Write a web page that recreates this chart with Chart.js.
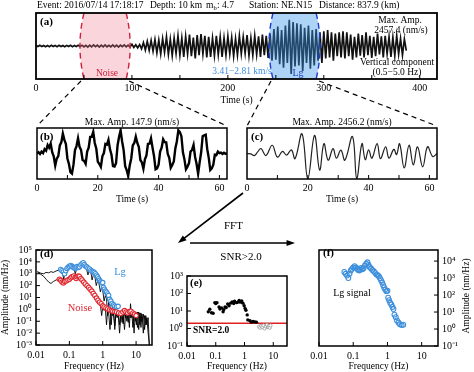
<!DOCTYPE html>
<html>
<head>
<meta charset="utf-8">
<script src="https://cdn.jsdelivr.net/npm/chart.js@4.4.1/dist/chart.umd.min.js"></script>
<style>
  html, body { margin: 0; padding: 0; background: #fff; }
  #fig { position: relative; width: 474px; height: 372px; overflow: hidden; background: #fff; }
  #fig canvas { position: absolute; }
</style>
</head>
<body>
<div id="fig">
  <canvas id="chartA" width="474" height="106" style="left:0;top:0"></canvas>
  <canvas id="chartB" width="237" height="95" style="left:0;top:110px"></canvas>
  <canvas id="chartC" width="237" height="95" style="left:237px;top:110px"></canvas>
  <canvas id="chartD" width="160" height="132" style="left:0;top:240px"></canvas>
  <canvas id="chartE" width="140" height="107" style="left:160px;top:265px"></canvas>
  <canvas id="chartF" width="174" height="132" style="left:300px;top:240px"></canvas>
  <canvas id="overlay" width="474" height="372" style="left:0;top:0;pointer-events:none"></canvas>
</div>
<script>
// ---- waveform (a): full record, one sample every 2 s (nm/s) ----
const waveAStep = 2;
const waveA = [
  40, -50, 60, -40, 50, -60, 45, -55, 60, -50, 40, -60, 55, -45, 50, -60, 40, -50, 60, -55, 45, -50, 60, -40,
  70, -80, 60, -90, 80, -70, 90, -60, 80, -90, 70, -80, 90, -70, 60, -80, 90, -80, 70, -90, 80, -60, 90, -70, 80, -90,
  150, -120, 110, -160, 130,
  -250, 300, -350, 420, -380, 500, -450, 560, -600, 520,
  -700, 650, -550, 800, -750, 600, -850, 700, -650, 900, -800, 700, -950, 850, -700,
  1000, -900, 750, -1100, 950, -800, 1050, -700, 900, -1000, 800, -950, 700, -850, 900, -750, 800, -950, 700, -800,
  850, -700, 750, -900, 650, -800, 900, -700, 800, -650, 950, -850, 700, -800, 900, -750, 850, -950, 1000, -800, 900, -1050, 1100,
  -1300, 1500, -1200, 1700, -1600, 1400, -1900, 1800, -1500, 2300, -2457, 2100,
  -1800, 2000, -1700, 1900, -2200, 1600, -1500, 1800, -2000, 1400, -1700, 1500, -1300,
  1200, -1500, 1300, -1100, 1400, -1000, 1200, -1300, 1100, -900, 1200, -1000, 1300,
  -1100, 1200, -900, 1000, -1200, 800, -1000, 1100, -850, 950, -1000, 1200, -800, 900, -1050, 800, -900,
  1100, -750, 850, -1000, 900, -700, 800, -950, 750, -850, 900, -700, 650, -800, 600, -400
];
const noiseWindow = [50, 94];
const lgWindow = [247, 292];

// ---- waveform (b): noise window, one sample every 0.5 s ----
const waveBStep = 0.5;
const waveB = [
  0, 8, -3, 12, 2, 28, 18, 55, 38, 64, 8, -18, -78, -33, -17, 52, 72, 129, 88, 62,
  -32, -68, -120, -130, -72, 22, 48, 98, 43, 22, -42, -48, -67, 12, 38, 107, 108, 140, 68, 32,
  -52, -68, -87, -18, 3, 62, 58, 88, 28, -8, -82, -85, -62, 52, 108, 150, 78, 22, -82, -108,
  -145, -78, -32, 52, 68, 109, 68, 42, -42, -58, -98, -38, -12, 62, 63, 98, 38, -18, -102, -96,
  -72, 12, 38, 92, 74, 72, -2, -28, -92, -74, -52, 32, 78, 150, 139, 112, 8, -38, -102, -85,
  -62, 12, 23, 55, -22, -68, -131, -58, 8, 112, 118, 122, 28, -28, -107, -96, -72, -8, -10, 12,
  2, 6, -3, 5, -2, 0
];

// ---- waveform (c): Lg window, turning points ----
const waveCTimes = [0, 1.2, 2.4, 3.5, 4.6, 6.2, 8.3, 10.0, 11.7, 13.0, 14.6, 15.8, 18.1, 20.0, 22.2, 23.9, 25.3, 26.7, 28.3, 29.4,
  30.9, 32.2, 34.7, 36.1, 37.8, 38.9, 40.0, 41.1, 42.8, 43.9, 45.6, 46.7, 48.3, 49.2, 50.2, 51.7, 53.3, 54.7, 56.1, 57.8,
  59.4, 61.1, 62.5];
const waveCAmps = [0, -40, -200, 150, 480, -200, 800, -350, 200, -150, 350, -500, 1900, -2456, 1750, -1600, 950, -650, 480, -450,
  320, -650, 1650, -2450, 950, -600, 350, -450, 950, -500, 650, -450, 400, -100, 950, -1400, 800, -1100, 650, -1300,
  650, -300, 0];

// ---- spectra (d) ----
const rawFreq = [0.011, 0.014, 0.017, 0.02, 0.024, 0.028, 0.033, 0.04, 0.047, 0.055,
  0.062, 0.068, 0.072, 0.08, 0.09, 0.1, 0.11, 0.12, 0.135, 0.15,
  0.17, 0.19, 0.21, 0.24, 0.26, 0.29, 0.32, 0.36, 0.4, 0.44,
  0.48, 0.53, 0.58, 0.64, 0.7, 0.77, 0.85, 0.93, 1.0, 1.1,
  1.2, 1.3, 1.4, 1.5, 1.65, 1.8, 1.95, 2.1, 2.3, 2.5,
  2.7, 2.9, 3.2, 3.5, 3.8, 4.1, 4.5, 4.9, 5.3, 5.8,
  6.3, 6.8, 7.4, 8.0, 8.7, 9.4, 10.2, 11, 12, 13,
  14, 15, 16.5, 18, 19.5, 21, 23, 25];
const rawLgAmp = [1500, 1100, 1000, 1300, 1200, 1500, 1300, 1700, 2000, 2200,
  1500, 300, 1200, 3000, 4000, 5000, 4000, 3000, 3500, 1000,
  3000, 4000, 6000, 9000, 7000, 3000, 3500, 800, 2000, 1500,
  300, 900, 600, 100, 250, 150, 30, 80, 40, 5,
  15, 8, 0.3, 4, 2, 0.05, 1.5, 0.8, 0.02, 0.6,
  0.3, 0.9, 0.05, 0.5, 0.08, 0.4, 0.02, 0.6, 0.1, 0.8,
  0.03, 3, 0.2, 0.5, 0.01, 0.4, 0.05, 0.6, 0.02, 0.5,
  0.03, 0.4, 0.01, 0.3, 0.05, 0.2, 0.01, 0.001];
const rawNoiseAmp = [1400, 900, 600, 350, 200, 150, 220, 300, 350, 280,
  150, 180, 120, 200, 280, 300, 350, 450, 500, 300,
  600, 500, 400, 350, 200, 120, 90, 60, 45, 30,
  25, 18, 12, 9, 3, 4, 2.5, 0.3, 1.5, 0.8,
  1.2, 0.05, 0.9, 0.6, 0.02, 0.7, 0.3, 0.5, 0.04, 0.5,
  0.2, 0.4, 0.01, 0.3, 0.4, 0.06, 0.5, 0.2, 0.6, 0.08,
  0.5, 0.2, 0.7, 0.03, 0.6, 0.1, 0.5, 0.03, 0.6, 0.05,
  0.5, 0.1, 0.4, 0.02, 0.3, 0.05, 0.2, 0.001];

const lgFreq = [0.055, 0.06, 0.066, 0.072, 0.078, 0.085, 0.092, 0.1, 0.11, 0.12,
  0.13, 0.14, 0.15, 0.16, 0.17, 0.185, 0.2, 0.22, 0.24, 0.26,
  0.28, 0.3, 0.33, 0.36, 0.4, 0.44, 0.48, 0.52, 0.56, 0.6,
  0.65, 0.7, 0.75, 0.8, 0.86, 0.93, 1.0, 1.05, 1.12, 1.2,
  1.3, 1.4, 1.5, 1.6, 1.75, 1.9, 2.1, 2.3, 2.6, 2.9];
const lgAmp = [2300, 1800, 1400, 1000, 1800, 2800, 3500, 4200, 5000, 4200,
  3500, 3000, 2800, 3200, 4000, 3300, 3800, 5500, 7000, 8500,
  6000, 4500, 3800, 3000, 2500, 2000, 1600, 1500, 1300, 1000,
  750, 550, 380, 280, 210, 170, 180, 70, 50, 35,
  28, 20, 15, 7, 5, 3.2, 2.4, 1.9, 1.7, 1.8];

const noiseFreq = [0.05, 0.055, 0.06, 0.066, 0.072, 0.08, 0.09, 0.1, 0.11, 0.12,
  0.135, 0.15, 0.16, 0.17, 0.185, 0.2, 0.22, 0.24, 0.27, 0.3,
  0.34, 0.38, 0.42, 0.47, 0.52, 0.58, 0.65, 0.72, 0.8, 0.9,
  1.0, 1.1, 1.25, 1.4, 1.6, 1.8, 2.0, 2.3, 2.6, 3.0,
  3.5, 4.0, 4.5, 5.0, 5.6, 6.3, 7.0, 8.0, 9.0, 10.0];
const noiseAmp = [350, 280, 200, 170, 220, 250, 300, 350, 450, 550,
  650, 500, 400, 550, 650, 600, 400, 300, 200, 140,
  100, 70, 50, 35, 22, 15, 9, 6, 4, 3,
  2, 1.6, 1.3, 1.1, 0.9, 0.8, 0.7, 0.65, 0.6, 0.5,
  0.45, 0.6, 0.8, 0.6, 0.5, 0.65, 0.7, 0.5, 0.4, 0.3];

// ---- SNR (e) ----
const snrFreq = [0.055, 0.062, 0.071, 0.081, 0.093, 0.1, 0.11, 0.13, 0.14, 0.16, 0.18, 0.19, 0.21, 0.23, 0.26, 0.29, 0.33, 0.37,
  0.42, 0.45, 0.53, 0.6, 0.65, 0.72, 0.8, 0.88, 0.97, 1.05, 1.12, 1.24, 1.3, 1.55, 1.75, 2.0, 2.3, 2.6];
const snrVal = [9, 12.6, 8, 7.5, 30, 27, 30, 17, 13, 15, 9, 12, 17, 16, 25, 20, 28, 33,
  27, 36, 30, 33, 40, 32, 38, 28, 20, 14, 11, 6, 3.1, 2.8, 2.3, 2.5, 2.4, 2.3];
const snrLowFreq = [3.2, 3.5, 3.8, 4.2, 4.6, 5.0, 5.5, 6.0, 6.5, 7.0, 7.5, 8.0];
const snrLowVal = [1.3, 1.1, 1.4, 1.2, 1.5, 1.0, 1.3, 1.6, 1.2, 1.4, 1.1, 1.5];
const snrThreshold = 2.0;

const freqTicks = [0.01, 0.1, 1, 10];
const ampTicksD = [1e-3, 1e-2, 1e-1, 1, 10, 100, 1e3, 1e4, 1e5];
const snrTicks = [0.1, 1, 10, 100, 1000];
const ampTicksF = [0.1, 1, 10, 100, 1e3, 1e4];

const SERIF = "'Liberation Serif', 'Times New Roman', serif";
const BLUE = "#3d8fdc";
const RED = "#e0262f";
const font = (size, weight) => ({ family: SERIF, size, weight: weight || "normal" });

const SUP = { "-": "\u207B", "0": "\u2070", "1": "\u00B9", "2": "\u00B2", "3": "\u00B3", "4": "\u2074", "5": "\u2075" };
function powLabel(v) {
  const e = String(Math.round(Math.log10(v)));
  return "10" + e.split("").map(c => SUP[c]).join("");
}

function pairs(xs, ys) {
  return xs.map((x, i) => ({ x, y: ys[i] }));
}
function stepped(values, step) {
  return values.map((y, i) => ({ x: i * step, y }));
}

function text(ctx, str, x, y, f, color, align) {
  ctx.save();
  ctx.font = `${f.weight || "normal"} ${f.size}px ${SERIF}`;
  ctx.fillStyle = color || "#000";
  ctx.textAlign = align || "left";
  ctx.textBaseline = "middle";
  ctx.fillText(str, x, y);
  ctx.restore();
}

// box around the plot area plus short inward ticks
function frame(cfg) {
  return {
    id: "frame",
    afterDraw(chart) {
      const { ctx, chartArea: a, scales } = chart;
      ctx.save();
      ctx.strokeStyle = "#000";
      ctx.setLineDash([]);
      ctx.beginPath();
      (cfg.xTicks || []).forEach(v => {
        const x = scales.x.getPixelForValue(v);
        ctx.moveTo(x, a.bottom);
        ctx.lineTo(x, a.bottom - 4);
      });
      (cfg.yTicks || []).forEach(v => {
        const y = scales.y.getPixelForValue(v);
        if (cfg.ySide === "right") { ctx.moveTo(a.right, y); ctx.lineTo(a.right - 4, y); }
        else { ctx.moveTo(a.left, y); ctx.lineTo(a.left + 4, y); }
      });
      ctx.lineWidth = 1;
      ctx.stroke();
      ctx.lineWidth = cfg.width || 1.5;
      ctx.strokeRect(a.left, a.top, a.right - a.left, a.bottom - a.top);
      ctx.restore();
    }
  };
}

function baseOptions(padding) {
  return {
    responsive: false,
    animation: false,
    events: [],
    layout: { padding },
    plugins: { legend: { display: false }, tooltip: { enabled: false } }
  };
}

function timeAxis(max, labels, height) {
  return {
    type: "linear", min: 0, max,
    grid: { display: false, drawTicks: false },
    border: { display: false },
    afterBuildTicks: ax => { ax.ticks = labels.map(v => ({ value: v })); },
    ticks: { font: font(10), color: "#000", padding: 3, maxRotation: 0, autoSkip: false },
    title: { display: true, text: "Time (s)", font: font(9.5), color: "#000", padding: 0 },
    afterFit: s => { s.height = height; }
  };
}

function freqAxis(height) {
  return {
    type: "logarithmic", min: 0.01, max: 30,
    grid: { display: false, drawTicks: false },
    border: { display: false },
    afterBuildTicks: ax => { ax.ticks = freqTicks.map(v => ({ value: v })); },
    ticks: { font: font(10), color: "#000", padding: 4, maxRotation: 0, autoSkip: false, callback: v => String(v) },
    title: { display: true, text: "Frequency (Hz)", font: font(9.5), color: "#000", padding: 0 },
    afterFit: s => { s.height = height; }
  };
}

function ampAxis(min, max, ticks, width, position, title) {
  return {
    type: "logarithmic", min, max, position,
    grid: { display: false, drawTicks: false },
    border: { display: false },
    afterBuildTicks: ax => { ax.ticks = ticks.map(v => ({ value: v })); },
    ticks: { font: font(10), color: "#000", padding: 4, autoSkip: false, callback: v => powLabel(v) },
    title: { display: !!title, text: title || "", font: font(9.5), color: "#000", padding: 0 },
    afterFit: s => { s.width = width; }
  };
}

function lineSet(points, color, width, extra) {
  return Object.assign({ data: points, showLine: true, borderColor: color, borderWidth: width, pointRadius: 0, tension: 0 }, extra || {});
}
function circleSet(points, color, extra) {
  return Object.assign({
    data: points, showLine: false, pointStyle: "circle", pointRadius: 2.2,
    pointBorderWidth: 1.1, pointBorderColor: color, pointBackgroundColor: "#fff"
  }, extra || {});
}

// draw a barrel shaped time window on panel (a)
function drawWindow(chart, win, fill, stroke) {
  const { ctx, chartArea: a, scales } = chart;
  const x0 = scales.x.getPixelForValue(win[0]);
  const x1 = scales.x.getPixelForValue(win[1]);
  const midY = (a.top + a.bottom) / 2;
  ctx.save();
  ctx.beginPath();
  ctx.moveTo(x0, a.top);
  ctx.quadraticCurveTo(x0 - 8, midY, x0, a.bottom);
  ctx.lineTo(x1, a.bottom);
  ctx.quadraticCurveTo(x1 + 8, midY, x1, a.top);
  ctx.closePath();
  ctx.fillStyle = fill;
  ctx.fill();
  ctx.setLineDash([6, 4]);
  ctx.lineWidth = 1.4;
  ctx.strokeStyle = stroke;
  ctx.beginPath();
  ctx.moveTo(x0, a.top);
  ctx.quadraticCurveTo(x0 - 8, midY, x0, a.bottom);
  ctx.moveTo(x1, a.top);
  ctx.quadraticCurveTo(x1 + 8, midY, x1, a.bottom);
  ctx.stroke();
  ctx.restore();
}

// ---------- (a) ----------
const chartA = new Chart(document.getElementById("chartA"), {
  type: "scatter",
  data: { datasets: [lineSet(stepped(waveA, waveAStep), "#111", 1.7)] },
  options: Object.assign(baseOptions({ left: 36, right: 37, top: 13 }), {
    scales: { x: timeAxis(418, [0, 100, 200, 300, 400], 27), y: { display: false, min: -2900, max: 2900 } }
  }),
  plugins: [frame({ xTicks: [50, 100, 150, 200, 250, 300, 350, 400], width: 1.8 }), {
    id: "decorA",
    afterDatasetsDraw(chart) {
      drawWindow(chart, noiseWindow, "rgba(240,120,140,0.3)", "#d0203c");
      drawWindow(chart, lgWindow, "rgba(60,150,235,0.42)", "#1c3cd0");
      const ctx = chart.ctx;
      text(ctx, "Noise", 107, 73, font(9.5), "#c8203a", "center");
      text(ctx, "Lg", 298, 73, font(10), "#1f3fbf", "center");
      text(ctx, "3.41\u22122.81 km/s", 242, 71, font(9.5), BLUE, "center");
      text(ctx, "Max. Amp.", 400, 20, font(9.5), "#000", "center");
      text(ctx, "2457.4 (nm/s)", 401, 30, font(9.5), "#000", "center");
      text(ctx, "Vertical component", 397, 62, font(9.5), "#000", "center");
      text(ctx, "(0.5\u22125.0 Hz)", 397, 72, font(9.5), "#000", "center");
      text(ctx, "(a)", 40, 22, font(11, "bold"), "#000", "left");
      // header line
      text(ctx, "Event: 2016/07/14 17:18:17", 37, 5, font(9.5));
      text(ctx, "Depth: 10 km", 150, 5, font(9.5));
      text(ctx, "m", 206, 5, font(9.5));
      text(ctx, "b", 213.5, 8, font(6.5));
      text(ctx, ": 4.7", 217, 5, font(9.5));
      text(ctx, "Station: NE.N15", 249, 5, font(9.5));
      text(ctx, "Distance: 837.9 (km)", 319, 5, font(9.5));
    }
  }]
});

// ---------- (b) ----------
const chartB = new Chart(document.getElementById("chartB"), {
  type: "scatter",
  data: { datasets: [lineSet(stepped(waveB, waveBStep), "#000", 2.4)] },
  options: Object.assign(baseOptions({ left: 37, right: 10, top: 18 }), {
    scales: { x: timeAxis(62.5, [0, 20, 40, 60], 26), y: { display: false, min: -165, max: 165 } }
  }),
  plugins: [frame({ xTicks: [10, 20, 30, 40, 50, 60] }), {
    id: "decorB",
    afterDraw(chart) {
      text(chart.ctx, "Max. Amp. 147.9 (nm/s)", 132, 12, font(9.5), "#000", "center");
      text(chart.ctx, "(b)", 40, 27, font(11, "bold"));
    }
  }]
});

// ---------- (c) ----------
const chartC = new Chart(document.getElementById("chartC"), {
  type: "scatter",
  data: { datasets: [lineSet(pairs(waveCTimes, waveCAmps), "#222", 1.2, { tension: 0.4 })] },
  options: Object.assign(baseOptions({ left: 10, right: 37, top: 18 }), {
    scales: { x: timeAxis(62.5, [0, 20, 40, 60], 26), y: { display: false, min: -2470, max: 2470 } }
  }),
  plugins: [frame({ xTicks: [10, 20, 30, 40, 50, 60] }), {
    id: "decorC",
    afterDraw(chart) {
      text(chart.ctx, "Max. Amp. 2456.2 (nm/s)", 105, 12, font(9.5), "#000", "center");
      text(chart.ctx, "(c)", 14, 27, font(11, "bold"));
    }
  }]
});

// ---------- (d) ----------
const chartD = new Chart(document.getElementById("chartD"), {
  type: "scatter",
  data: {
    datasets: [
      lineSet(pairs(rawFreq, rawNoiseAmp), "#000", 0.9, { order: 4 }),
      lineSet(pairs(rawFreq, rawLgAmp), "#000", 0.9, { order: 3 }),
      circleSet(pairs(noiseFreq, noiseAmp), RED, { order: 2, showLine: true, borderColor: RED, borderWidth: 1 }),
      circleSet(pairs(lgFreq, lgAmp), BLUE, { order: 1, showLine: true, borderColor: BLUE, borderWidth: 1 })
    ]
  },
  options: Object.assign(baseOptions({ left: 0, right: 8, top: 7 }), {
    scales: { x: freqAxis(27), y: ampAxis(1e-3, 1e5, ampTicksD, 36, "left", "Amplitude (nm/Hz)") }
  }),
  plugins: [frame({ xTicks: freqTicks, yTicks: ampTicksD }), {
    id: "decorD",
    afterDraw(chart) {
      text(chart.ctx, "(d)", 40, 14, font(11, "bold"));
      text(chart.ctx, "Lg", 120, 32, font(10.5), BLUE, "center");
      text(chart.ctx, "Noise", 80, 68, font(10.5), RED, "center");
    }
  }]
});

// ---------- (e) ----------
const chartE = new Chart(document.getElementById("chartE"), {
  type: "scatter",
  data: {
    datasets: [
      lineSet([{ x: 0.01, y: snrThreshold }, { x: 30, y: snrThreshold }], "#e02020", 1.4, { order: 3 }),
      { data: pairs(snrFreq, snrVal), pointStyle: "circle", pointRadius: 1.7, pointBorderWidth: 0, pointBackgroundColor: "#000", order: 1 },
      { data: pairs(snrLowFreq, snrLowVal), pointStyle: "circle", pointRadius: 1.6, pointBorderWidth: 0.8, pointBorderColor: "#999", pointBackgroundColor: "#fff", order: 2 }
    ]
  },
  options: Object.assign(baseOptions({ left: 0, right: 13, top: 11 }), {
    scales: { x: freqAxis(26), y: ampAxis(0.1, 1000, snrTicks, 27, "left", null) }
  }),
  plugins: [frame({ xTicks: freqTicks, yTicks: snrTicks }), {
    id: "decorE",
    afterDraw(chart) {
      text(chart.ctx, "(e)", 30, 18, font(11, "bold"));
      text(chart.ctx, "SNR=2.0", 33, 66, font(9.5, "bold"));
    }
  }]
});

// ---------- (f) ----------
const chartF = new Chart(document.getElementById("chartF"), {
  type: "scatter",
  data: { datasets: [circleSet(pairs(lgFreq, lgAmp), BLUE, { pointRadius: 2.4, pointBackgroundColor: "rgba(255,255,255,0)" })] },
  options: Object.assign(baseOptions({ left: 19, right: 0, top: 6 }), {
    scales: { x: freqAxis(26), y: ampAxis(0.1, 45000, ampTicksF, 36, "right", null) }
  }),
  plugins: [frame({ xTicks: freqTicks, yTicks: ampTicksF, ySide: "right" }), {
    id: "decorF",
    afterDraw(chart) {
      const ctx = chart.ctx;
      text(ctx, "(f)", 23, 13, font(11, "bold"));
      text(ctx, "Lg signal", 52, 53, font(10), "#000", "center");
      ctx.save();
      ctx.translate(166, 56);
      ctx.rotate(-Math.PI / 2);
      text(ctx, "Amplitude (nm/Hz)", 0, 0, font(9.5), "#000", "center");
      ctx.restore();
    }
  }]
});

// ---------- connectors and arrows ----------
function origin(chart) {
  const c = chart.canvas;
  return { x: c.offsetLeft, y: c.offsetTop };
}
function arrow(ctx, x0, y0, x1, y1) {
  const ang = Math.atan2(y1 - y0, x1 - x0);
  ctx.beginPath();
  ctx.moveTo(x0, y0);
  ctx.lineTo(x1 - 6 * Math.cos(ang), y1 - 6 * Math.sin(ang));
  ctx.stroke();
  ctx.beginPath();
  ctx.moveTo(x1, y1);
  ctx.lineTo(x1 - 9 * Math.cos(ang - 0.35), y1 - 9 * Math.sin(ang - 0.35));
  ctx.lineTo(x1 - 9 * Math.cos(ang + 0.35), y1 - 9 * Math.sin(ang + 0.35));
  ctx.closePath();
  ctx.fill();
}

const ov = document.getElementById("overlay").getContext("2d");
const aArea = chartA.chartArea;
const ax = chartA.scales.x;
const oB = origin(chartB), oC = origin(chartC);
const bArea = chartB.chartArea, cArea = chartC.chartArea;

ov.save();
ov.strokeStyle = "#000";
ov.lineWidth = 1.2;
ov.setLineDash([5, 4]);
ov.beginPath();
ov.moveTo(ax.getPixelForValue(noiseWindow[0]) - 3, aArea.bottom + 2);
ov.lineTo(oB.x + bArea.left, oB.y + bArea.top - 2);
ov.moveTo(ax.getPixelForValue(noiseWindow[1]) + 3, aArea.bottom + 2);
ov.lineTo(oB.x + bArea.right, oB.y + bArea.top - 2);
ov.moveTo(ax.getPixelForValue(lgWindow[0]) - 2, aArea.bottom + 2);
ov.lineTo(oC.x + cArea.left, oC.y + cArea.top - 2);
ov.moveTo(ax.getPixelForValue(lgWindow[1]) + 3, aArea.bottom + 2);
ov.lineTo(oC.x + cArea.right, oC.y + cArea.top - 2);
ov.stroke();

ov.setLineDash([]);
ov.lineWidth = 1.6;
ov.fillStyle = "#000";
arrow(ov, 243, 193, 178, 243);
arrow(ov, 190, 243, 295, 243);
ov.restore();
text(ov, "FFT", 224, 226, font(11));
text(ov, "SNR>2.0", 241, 257, font(11), "#000", "center");
</script>
</body>
</html>
